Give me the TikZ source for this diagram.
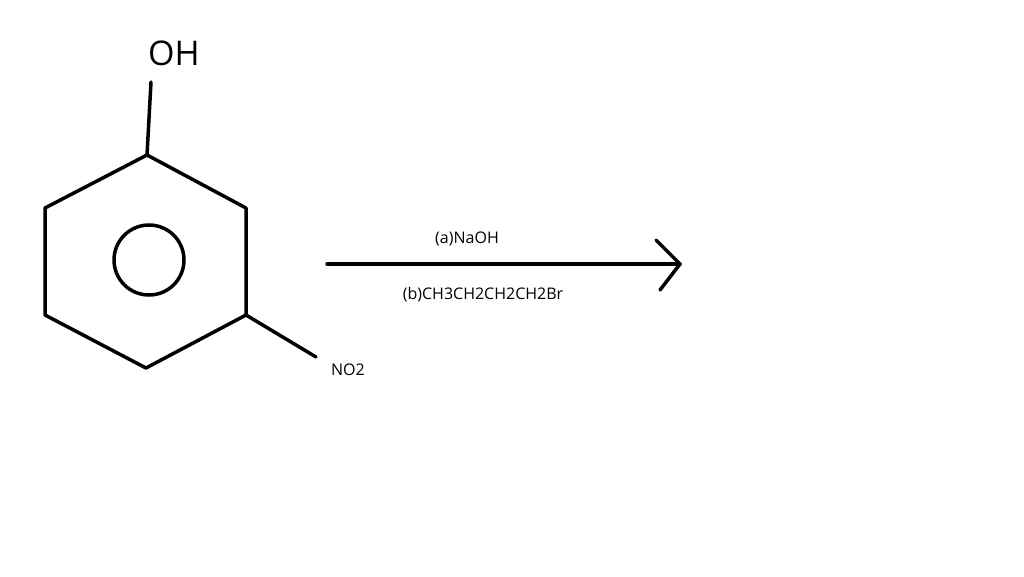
\documentclass[tikz,border=0pt]{standalone}
\usepackage{fontspec}
\setmainfont{Open Sans}
\begin{document}
\begin{tikzpicture}[x=1pt,y=-1pt,bond/.style={line width=3.5pt,line cap=round,line join=round},lbl/.style={font=\fontsize{16}{19}\selectfont}]
\useasboundingbox (0,0) rectangle (1024,576);
\coordinate (t) at (147,155);
\coordinate (ur) at (246,208);
\coordinate (lr) at (246,315);
\coordinate (b) at (146,368);
\coordinate (ll) at (45,315);
\coordinate (ul) at (45,208);
\draw[bond] (t)--(ur)--(lr)--(b)--(ll)--(ul)--cycle;
\draw[bond] (149,260) circle (35);
\coordinate (ohend) at (151,82);
\draw[bond] (t)--(ohend);
\node (oh) at (174,53) {\fontsize{34}{36}\selectfont OH};
\coordinate (noend) at (316,357);
\draw[bond] (lr)--(noend);
\node[lbl] (no2) at (348,370) {NO2};
\coordinate (a1) at (327,264);
\coordinate (a2) at (680,264);
\draw[bond] (a1)--(a2);
\draw[bond] (656,240)--(a2)--(660,290);
\node[lbl] (r1) at (467,239) {(a)NaOH};
\node[lbl] (r2) at (483,295) {(b)CH3CH2CH2CH2Br};
\end{tikzpicture}
\end{document}
